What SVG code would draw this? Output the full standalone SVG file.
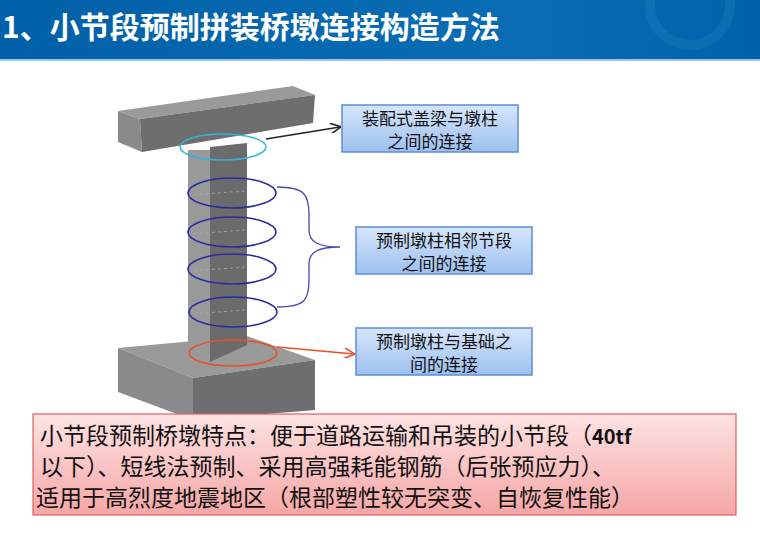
<svg xmlns="http://www.w3.org/2000/svg" width="760" height="542" viewBox="0 0 760 542">
<defs>
<style>
.cjk{font-family:"Noto Sans CJK SC","Liberation Sans",sans-serif}
.lbl{font-size:17px;fill:#111;text-anchor:middle}
.box{fill:url(#bg);stroke:#5b8fd6;stroke-width:1.5}
.ell{fill:none;stroke-width:1.6}
</style>
<linearGradient id="bg" x1="0" y1="0" x2="0" y2="1"><stop offset="0" stop-color="#d6e6fb"/><stop offset="1" stop-color="#9dc0f0"/></linearGradient>
<linearGradient id="pg" x1="0" y1="0" x2="0" y2="1"><stop offset="0" stop-color="#fde3e3"/><stop offset="1" stop-color="#f6a6a6"/></linearGradient>
<linearGradient id="tg" x1="0" y1="0" x2="1" y2="0"><stop offset="0" stop-color="#0060a8"/><stop offset="0.7" stop-color="#0a6db4"/><stop offset="1" stop-color="#0062aa"/></linearGradient>
<marker id="ab" viewBox="0 0 10 10" refX="9" refY="5" markerWidth="8" markerHeight="8" orient="auto"><path d="M0,0 L10,5 L0,10" fill="none" stroke="#222" stroke-width="1.5"/></marker>
<marker id="ar" viewBox="0 0 10 10" refX="9" refY="5" markerWidth="8" markerHeight="8" orient="auto"><path d="M0,0 L10,5 L0,10" fill="none" stroke="#e8502a" stroke-width="1.5"/></marker>
</defs>
<rect width="760" height="542" fill="#fff"/>
<g id="title">
<rect width="760" height="59" fill="url(#tg)"/>
<circle cx="690" cy="5" r="40" fill="none" stroke="#2a86c6" stroke-width="10" opacity="0.25"/>
<rect y="59" width="760" height="2" fill="#9cc3e3"/>
<text x="2" y="38" class="cjk" font-size="30" font-weight="bold" fill="#fff">1、小节段预制拼装桥墩连接构造方法</text>
</g>
<g id="pier">
<polygon points="118,348 247,336 315,360 193,378" fill="#9a9a9a"/>
<polygon points="118,348 193,378 193,420 118,392" fill="#8a8a8a"/>
<polygon points="193,378 315,360 315,410 193,420" fill="#6e6e6e"/>
<polygon points="188,150 210,150 210,362 188,352" fill="#999"/>
<polygon points="210,147 247,143 247,345 210,362" fill="#6b6b6b"/>
<polygon points="118,111 293,86 315,95 140,119" fill="#9a9a9a"/>
<polygon points="118,111 140,119 142,152 118,142" fill="#8a8a8a"/>
<polygon points="140,119 315,95 313,123 142,152" fill="#6e6e6e"/>
<g stroke="#aaa" stroke-dasharray="3,3" stroke-width="0.8"><line x1="188" y1="195" x2="247" y2="191"/><line x1="188" y1="234" x2="247" y2="230"/><line x1="188" y1="271" x2="247" y2="267"/><line x1="188" y1="314" x2="247" y2="310"/></g>
</g>
<g id="ellipses">
<ellipse class="ell" cx="223" cy="147" rx="43" ry="13" stroke="#35b3dc"/>
<ellipse class="ell" cx="232" cy="193" rx="44" ry="15" stroke="#2a2aa0"/>
<ellipse class="ell" cx="232" cy="232" rx="44" ry="15" stroke="#2a2aa0"/>
<ellipse class="ell" cx="232" cy="269" rx="44" ry="15" stroke="#2a2aa0"/>
<ellipse class="ell" cx="233" cy="312" rx="44" ry="15" stroke="#2a2aa0"/>
<ellipse class="ell" cx="233" cy="353" rx="44" ry="13" stroke="#e8502a"/>
</g>
<g id="connectors">
<line x1="266" y1="139" x2="340" y2="127" stroke="#222" stroke-width="1.3" marker-end="url(#ab)"/>
<path d="M277,187 C305,187 309,195 309,215 L309,230 C309,242 318,247 340,247 C318,247 309,252 309,264 L309,280 C309,300 305,307 277,307" fill="none" stroke="#4848b0" stroke-width="1.3"/>
<line x1="277" y1="347" x2="354" y2="354" stroke="#e8502a" stroke-width="1.3" marker-end="url(#ar)"/>
</g>
<g id="n1"><rect class="box" x="342" y="105" width="176" height="47"/><text class="cjk lbl" x="430" y="125">装配式盖梁与墩柱</text><text class="cjk lbl" x="430" y="148">之间的连接</text></g>
<g id="n2"><rect class="box" x="356" y="227" width="176" height="47"/><text class="cjk lbl" x="444" y="247">预制墩柱相邻节段</text><text class="cjk lbl" x="444" y="270">之间的连接</text></g>
<g id="n3"><rect class="box" x="356" y="328" width="176" height="47"/><text class="cjk lbl" x="444" y="348">预制墩柱与基础之</text><text class="cjk lbl" x="444" y="371">间的连接</text></g>
<g id="note">
<rect x="33" y="414" width="703" height="101" fill="url(#pg)" stroke="#e06060" stroke-width="1.2"/>
<g class="cjk" font-size="23" fill="#111">
<text x="40" y="444">小节段预制桥墩特点：便于道路运输和吊装的小节段（<tspan font-weight="bold" font-size="20">40tf</tspan></text>
<text x="40" y="475">以下）、短线法预制、采用高强耗能钢筋（后张预应力）、</text>
<text x="36" y="506">适用于高烈度地震地区（根部塑性较无突变、自恢复性能）</text>
</g>
</g>
</svg>
